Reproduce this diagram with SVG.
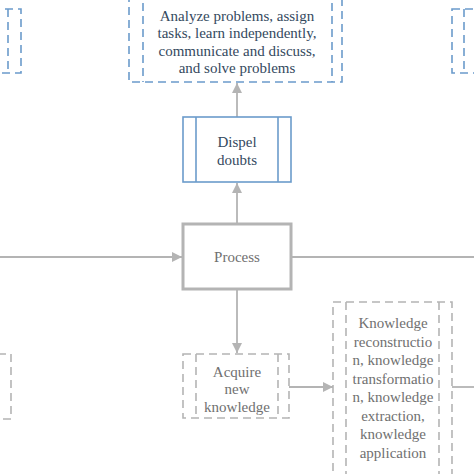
<svg xmlns="http://www.w3.org/2000/svg" width="474" height="474" viewBox="0 0 474 474">
<defs>
<style>
.bd{fill:none;stroke:#6b9bcb;stroke-width:1.6;stroke-dasharray:8 5}
.bs{fill:#fff;stroke:#6b9bcb;stroke-width:1.6}
.gd{fill:none;stroke:#b4b4b4;stroke-width:1.6;stroke-dasharray:8 5}
.conn{stroke:#b4b4b4;stroke-width:1.8;fill:none}
.t{font-family:"Liberation Serif","Times New Roman",serif;font-size:15px;text-anchor:middle}
.tb{fill:#34495e}
.tg{fill:#707070}
</style>
<marker id="ah" viewBox="0 0 10 10" refX="10" refY="5" markerWidth="10" markerHeight="10" markerUnits="userSpaceOnUse" orient="auto">
<path d="M0,0 L10,5 L0,10 z" fill="#b4b4b4"/>
</marker>
</defs>
<rect width="474" height="474" fill="#fff"/>
<g id="connectors">
<line class="conn" x1="0" y1="257" x2="182" y2="257" marker-end="url(#ah)"/>
<line class="conn" x1="291" y1="257" x2="474" y2="257"/>
<line class="conn" x1="237" y1="224" x2="237" y2="183" marker-end="url(#ah)"/>
<line class="conn" x1="237" y1="117" x2="237" y2="83" marker-end="url(#ah)"/>
<line class="conn" x1="237" y1="289" x2="237" y2="353" marker-end="url(#ah)"/>
<line class="conn" x1="289" y1="387" x2="333" y2="387" marker-end="url(#ah)"/>
<line class="conn" x1="452" y1="387" x2="474" y2="387"/>
</g>
<g id="top-box">
<rect class="bd" x="129" y="-10" width="213" height="92"/>
<line class="bd" x1="143" y1="-10" x2="143" y2="82"/>
<line class="bd" x1="332" y1="-10" x2="332" y2="82"/>
<text class="t tb" x="237" y="21">Analyze problems, assign</text>
<text class="t tb" x="237" y="38">tasks, learn independently,</text>
<text class="t tb" x="237" y="56">communicate and discuss,</text>
<text class="t tb" x="237" y="73">and solve problems</text>
</g>
<g id="top-left-box">
<rect class="bd" x="-60" y="9" width="81" height="64"/>
<line class="bd" x1="8" y1="9" x2="8" y2="73"/>
</g>
<g id="top-right-box">
<rect class="bd" x="452" y="9" width="80" height="64"/>
<line class="bd" x1="464" y1="9" x2="464" y2="73"/>
</g>
<g id="dispel">
<rect class="bs" x="183" y="117" width="108" height="65"/>
<line class="bs" x1="196" y1="117" x2="196" y2="182"/>
<line class="bs" x1="278" y1="117" x2="278" y2="182"/>
<text class="t tb" x="237" y="147">Dispel</text>
<text class="t tb" x="237" y="165">doubts</text>
</g>
<g id="process">
<rect x="183" y="224" width="108" height="65" fill="#fff" stroke="#b4b4b4" stroke-width="3"/>
<text class="t tg" x="237" y="262">Process</text>
</g>
<g id="acquire">
<rect class="gd" x="183" y="354" width="106" height="64"/>
<line class="gd" x1="196" y1="354" x2="196" y2="418"/>
<line class="gd" x1="278" y1="354" x2="278" y2="418"/>
<text class="t tg" x="237" y="377">Acquire</text>
<text class="t tg" x="237" y="394">new</text>
<text class="t tg" x="237" y="412">knowledge</text>
</g>
<g id="knowledge">
<rect class="gd" x="333" y="302" width="119" height="180"/>
<line class="gd" x1="346" y1="302" x2="346" y2="482"/>
<line class="gd" x1="439" y1="302" x2="439" y2="482"/>
<text class="t tg" x="393" y="328">Knowledge</text>
<text class="t tg" x="393" y="347">reconstructio</text>
<text class="t tg" x="393" y="365">n, knowledge</text>
<text class="t tg" x="393" y="384">transformatio</text>
<text class="t tg" x="393" y="402">n, knowledge</text>
<text class="t tg" x="393" y="421">extraction,</text>
<text class="t tg" x="393" y="439">knowledge</text>
<text class="t tg" x="393" y="458">application</text>
</g>
<g id="bottom-left-box">
<rect class="gd" x="-80" y="354" width="91" height="65"/>
</g>
</svg>
